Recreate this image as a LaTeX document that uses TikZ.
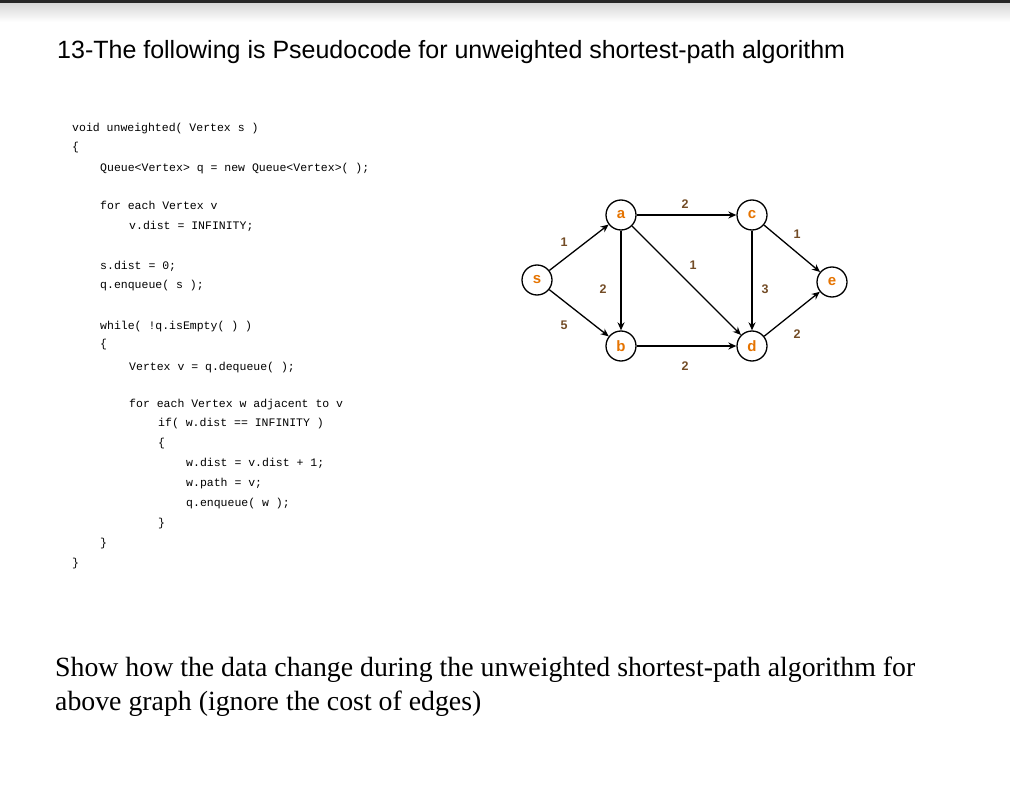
\documentclass[tikz,border=0pt]{standalone}
\usetikzlibrary{arrows.meta}
\usepackage{fontspec}
\setmainfont{Liberation Serif}
\newfontfamily\sansf{Liberation Sans}
\newfontfamily\monof{Liberation Mono}
\begin{document}
\begin{tikzpicture}[x=1pt,y=-1pt,
  vert/.style={circle,draw,line width=1.3pt,minimum size=30pt,inner sep=0pt,font=\sansf\fontsize{15}{15}\selectfont\bfseries,text=orange!90!black},
  edge/.style={-{Stealth[length=8pt,width=7pt]},line width=1.3pt},
  wt/.style={font=\sansf\fontsize{12.5}{12.5}\selectfont\bfseries,text=brown!60!black},
  code/.style={anchor=base west,inner sep=0pt,font=\monof\fontsize{11.5}{11.5}\selectfont}]
\useasboundingbox (0,0) rectangle (1010,805);
\fill[black!85] (0,0) rectangle (1010,4);
\shade[top color=black!15,bottom color=white] (0,4) rectangle (1010,22);
\node[anchor=base west,inner sep=0pt,font=\sansf\fontsize{25}{25}\selectfont] (title) at (57,59) {13-The following is Pseudocode for unweighted shortest-path algorithm};
\node[code] (l1) at (72,132) {void unweighted( Vertex s )};
\node[code] (l2) at (72,151) {\{};
\node[code] (l3) at (100,172) {Queue<Vertex> q = new Queue<Vertex>( );};
\node[code] (l4) at (100,210) {for each Vertex v};
\node[code] (l5) at (129,230) {v.dist = INFINITY;};
\node[code] (l6) at (100,270) {s.dist = 0;};
\node[code] (l7) at (100,289) {q.enqueue( s );};
\node[code] (l8) at (100,329) {while( !q.isEmpty( ) )};
\node[code] (l9) at (100,348) {\{};
\node[code] (l10) at (129,370) {Vertex v = q.dequeue( );};
\node[code] (l11) at (129,407) {for each Vertex w adjacent to v};
\node[code] (l12) at (158,426) {if( w.dist == INFINITY )};
\node[code] (l13) at (158,446) {\{};
\node[code] (l14) at (186,466) {w.dist = v.dist + 1;};
\node[code] (l15) at (186,486) {w.path = v;};
\node[code] (l16) at (186,506) {q.enqueue( w );};
\node[code] (l17) at (158,526) {\}};
\node[code] (l18) at (100,546) {\}};
\node[code] (l19) at (72,566) {\}};
\node[vert] (s) at (537,280) {s};
\node[vert] (a) at (621,215) {a};
\node[vert] (b) at (621,346) {b};
\node[vert] (c) at (752,215) {c};
\node[vert] (d) at (752,346) {d};
\node[vert] (e) at (832,282) {e};
\draw[edge] (s) -- (a);
\draw[edge] (s) -- (b);
\draw[edge] (a) -- (b);
\draw[edge] (a) -- (c);
\draw[edge] (a) -- (d);
\draw[edge] (b) -- (d);
\draw[edge] (c) -- (d);
\draw[edge] (c) -- (e);
\draw[edge] (d) -- (e);
\node[wt] (w1) at (685,204) {2};
\node[wt] (w2) at (564,242) {1};
\node[wt] (w3) at (603,289) {2};
\node[wt] (w4) at (693,265) {1};
\node[wt] (w5) at (765,289) {3};
\node[wt] (w6) at (797,234) {1};
\node[wt] (w7) at (564,325) {5};
\node[wt] (w8) at (797,334) {2};
\node[wt] (w9) at (685,366) {2};
\node[anchor=base west,inner sep=0pt,font=\fontsize{27.8}{27.8}\selectfont] (q1) at (55,676) {Show how the data change during the unweighted shortest-path algorithm for};
\node[anchor=base west,inner sep=0pt,font=\fontsize{27.8}{27.8}\selectfont] (q2) at (55,710) {above graph (ignore the cost of edges)};
\end{tikzpicture}
\end{document}
